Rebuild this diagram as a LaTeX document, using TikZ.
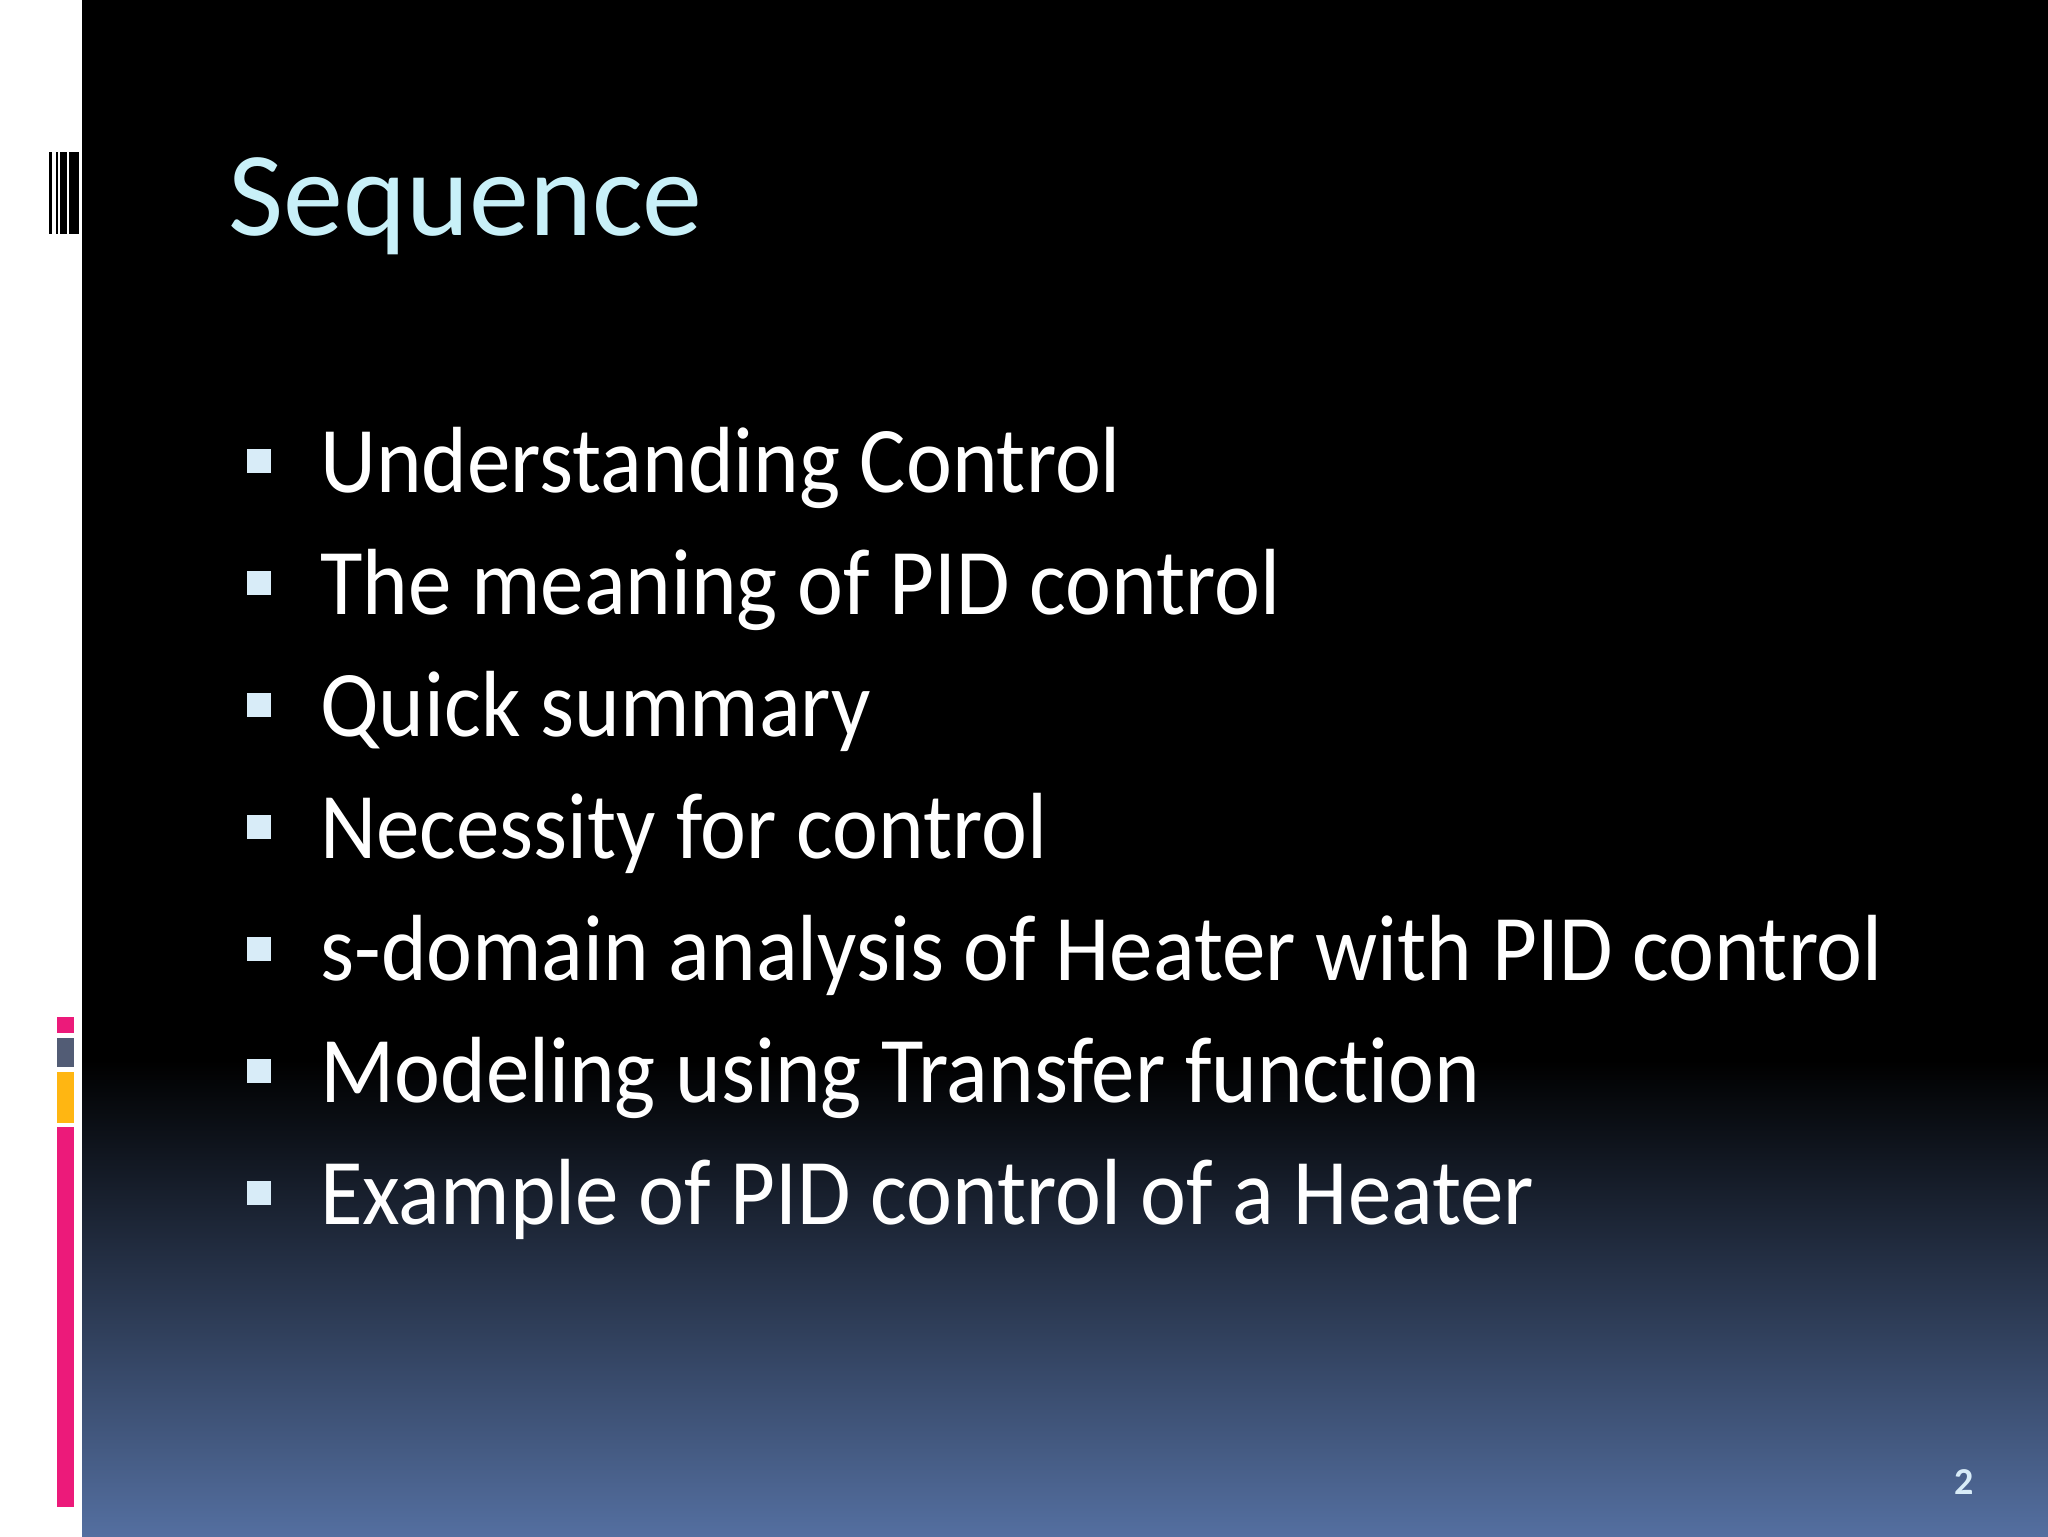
\documentclass[tikz,border=0pt]{standalone}
\usepackage{fontspec}
\setmainfont{Carlito}[Ligatures={NoCommon,NoDiscretionary,NoContextual}]
\newfontfamily\itemfont{Carlito}[FakeStretch=0.925,Ligatures={NoCommon,NoDiscretionary,NoContextual}]
\begin{document}
\begin{tikzpicture}[x=0.5pt,y=-0.5pt,
  item/.style={anchor=base west,text=white,font=\itemfont\fontsize{47}{50}\selectfont,inner sep=0},
  bul/.style={fill=bulblue,draw=none}]
\definecolor{bulblue}{HTML}{D8ECF8}
\definecolor{titlecol}{HTML}{C8F0F8}
\definecolor{pinkbar}{HTML}{EC1A7A}
\definecolor{graybar}{HTML}{525C75}
\definecolor{amberbar}{HTML}{FFB612}
\definecolor{bluebot}{HTML}{546FA0}
\useasboundingbox (0,0) rectangle (2048,1536);
\fill[white] (0,0) rectangle (2048,1536);
\fill[black] (82,0) rectangle (2048,1060);
\shade[top color=black,bottom color=bluebot] (82,1060) rectangle (2048,1536);
% barcode
\foreach \a/\b in {49/51.5,55.7/58,60/67,68.7/79.3} \fill[black] (\a,152) rectangle (\b,234);
% side bars
\fill[pinkbar] (57.3,1017) rectangle (73.7,1033);
\fill[graybar] (57.3,1038) rectangle (73.7,1067);
\fill[amberbar] (57.3,1072) rectangle (73.7,1123);
\fill[pinkbar] (57.3,1127) rectangle (73.7,1507);
\node[anchor=base west,text=titlecol,font=\fontsize{60}{64}\selectfont,inner sep=0] (title) at (228,235) {Sequence};
\foreach \t [count=\i] in {Understanding Control,The meaning of PID control,Quick summary,Necessity for control,s-domain analysis of Heater with PID control,Modeling using Transfer function,Example of PID control of a Heater}{
  \pgfmathsetmacro{\yb}{492+122*(\i-1)}
  \node[item] (it\i) at (320,\yb) {\t};
  \fill[bulblue] (247,\yb-43) rectangle (271,\yb-19);
}
\node[anchor=base east,text=bulblue,font=\bfseries\fontsize{19}{20}\selectfont,inner sep=0] (pg) at (1974,1494) {2};
\end{tikzpicture}
\end{document}
